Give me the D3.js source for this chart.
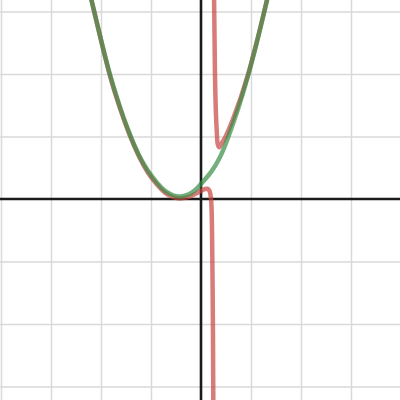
<!DOCTYPE html>
<html>
<head>
<meta charset="utf-8">
<script src="https://cdn.jsdelivr.net/npm/d3@7"></script>
<style>
  html, body { margin: 0; padding: 0; background: #fff; }
  svg { display: block; }
</style>
</head>
<body>
<div id="graph"></div>
<script>
// Grid ticks (graph units)
var xTicks = [-4, -3, -2, -1, 1, 2, 3, 4];
var yTicks = [-3, -2, -1, 1, 2, 3];

// Green curve, points
var greenX = [-2.32, -2.19, -2.0, -1.82, -1.62, -1.43, -1.24, -1.06, -0.88, -0.72, -0.56, -0.42, -0.26, -0.12, 0.02, 0.2, 0.38, 0.54, 0.74, 0.94, 1.13, 1.32, 1.42];
var greenY = [3.6, 3.18, 2.55, 1.99, 1.47, 1.05, 0.7, 0.45, 0.26, 0.13, 0.06, 0.04, 0.07, 0.14, 0.26, 0.43, 0.67, 0.98, 1.44, 1.97, 2.55, 3.18, 3.55];

// Red curve, left part (goes down near the pole)
var redLeftX = [-2.32, -2.19, -2.0, -1.82, -1.62, -1.43, -1.24, -1.06, -0.88, -0.72, -0.56, -0.42, -0.26, -0.12, 0.0, 0.08, 0.13, 0.17, 0.195, 0.21, 0.222, 0.232, 0.24, 0.246, 0.248];
var redLeftY = [3.6, 3.18, 2.54, 1.97, 1.45, 1.03, 0.68, 0.42, 0.23, 0.1, 0.03, 0.01, 0.03, 0.08, 0.13, 0.16, 0.165, 0.13, 0.04, -0.12, -0.6, -1.4, -2.2, -3.22, -3.6];

// Red curve, right part (comes down from the pole)
var redRightX = [0.258, 0.262, 0.28, 0.314, 0.33, 0.36, 0.42, 0.48, 0.64, 0.94, 1.13, 1.32, 1.42];
var redRightY = [3.6, 3.18, 1.98, 1.1, 0.9, 0.83, 0.9, 0.98, 1.28, 1.99, 2.56, 3.19, 3.56];

var width = 400,
    height = 400;

var x = d3.scaleLinear().domain([-4.02, 3.98]).range([0, width]);
var y = d3.scaleLinear().domain([-3.216, 3.184]).range([height, 0]);

var svg = d3.select("#graph").append("svg")
    .attr("width", width)
    .attr("height", height);

// grid lines
svg.append("g")
    .attr("class", "grid-x")
    .attr("transform", "translate(0," + height + ")")
    .call(d3.axisBottom(x).tickValues(xTicks).tickSize(-height).tickFormat(""))
    .call(function(g) { g.select(".domain").remove(); });

svg.append("g")
    .attr("class", "grid-y")
    .call(d3.axisLeft(y).tickValues(yTicks).tickSize(-width).tickFormat(""))
    .call(function(g) { g.select(".domain").remove(); });

svg.selectAll(".grid-x line, .grid-y line")
    .attr("stroke", "#d9d9d9")
    .attr("stroke-width", 1.5);

// axes
svg.append("line")
    .attr("x1", 0).attr("x2", width)
    .attr("y1", y(0)).attr("y2", y(0))
    .attr("stroke", "#1a1a1a")
    .attr("stroke-width", 2.6);
svg.append("line")
    .attr("x1", x(0)).attr("x2", x(0))
    .attr("y1", 0).attr("y2", height)
    .attr("stroke", "#1a1a1a")
    .attr("stroke-width", 2.6);

function toPoints(xs, ys) {
    return xs.map(function(d, i) { return [d, ys[i]]; });
}

var redLine = d3.line()
    .x(function(d) { return x(d[0]); })
    .y(function(d) { return y(d[1]); })
    .curve(d3.curveMonotoneX);

var greenLine = d3.line()
    .x(function(d) { return x(d[0]); })
    .y(function(d) { return y(d[1]); })
    .curve(d3.curveNatural);

var curves = svg.append("g").attr("class", "curves");

[toPoints(redLeftX, redLeftY), toPoints(redRightX, redRightY)].forEach(function(pts) {
    curves.append("path")
        .datum(pts)
        .attr("d", redLine)
        .attr("fill", "none")
        .attr("stroke", "#c74440")
        .attr("stroke-opacity", 0.7)
        .attr("stroke-width", 4.5)
        .attr("stroke-linejoin", "round")
        .attr("stroke-linecap", "round");
});

curves.append("path")
    .datum(toPoints(greenX, greenY))
    .attr("d", greenLine)
    .attr("fill", "none")
    .attr("stroke", "#388c46")
    .attr("stroke-opacity", 0.7)
    .attr("stroke-width", 4.5)
    .attr("stroke-linejoin", "round")
    .attr("stroke-linecap", "round");
</script>
</body>
</html>
